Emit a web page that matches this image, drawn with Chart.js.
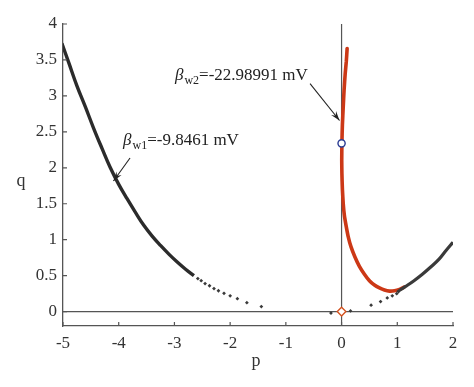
<!DOCTYPE html>
<html>
<head>
<meta charset="utf-8">
<script src="https://cdn.jsdelivr.net/npm/chart.js@4.4.0/dist/chart.umd.min.js"></script>
<style>
  html, body { margin: 0; padding: 0; background: #fff; }
  #wrap { width: 474px; height: 387px; }
</style>
</head>
<body>
<div id="wrap"><canvas id="myChart" width="474" height="387"></canvas></div>
<script>
// left branch, dense part (reads as a solid curve)
const leftP = [-5.02, -4.9, -4.75, -4.6, -4.45, -4.3, -4.15, -4.0, -3.85, -3.7, -3.55, -3.4, -3.25, -3.1, -2.95, -2.8, -2.65]
const leftQ = [3.73, 3.47, 3.14, 2.85, 2.55, 2.27, 2.0, 1.77, 1.57, 1.38, 1.2, 1.05, 0.92, 0.8, 0.69, 0.59, 0.5]

// left branch, sparse markers
const leftDotP = [-2.58, -2.52, -2.45, -2.37, -2.29, -2.21, -2.11, -2.0, -1.87, -1.7, -1.44]
const leftDotQ = [0.46, 0.43, 0.39, 0.36, 0.32, 0.29, 0.255, 0.22, 0.18, 0.125, 0.07]

// right branch, sparse markers
const rightDotP = [-0.19, 0.16, 0.53, 0.7, 0.82, 0.91, 0.99]
const rightDotQ = [-0.02, 0.01, 0.09, 0.14, 0.19, 0.22, 0.25]

// right branch, dense part
const rightP = [1.0, 1.05, 1.15, 1.3, 1.45, 1.6, 1.75, 1.875, 2.0]
const rightQ = [0.27, 0.3, 0.35, 0.43, 0.52, 0.62, 0.73, 0.85, 0.965]

// red curve
const redP = [0.1, 0.085, 0.065, 0.045, 0.03, 0.015, 0.006, 0.003, 0.006, 0.015, 0.03, 0.05, 0.08, 0.12, 0.17, 0.24, 0.32, 0.41, 0.5, 0.59, 0.68, 0.77, 0.86, 0.95, 1.04, 1.12]
const redQ = [3.66, 3.48, 3.31, 3.08, 2.85, 2.6, 2.34, 2.1, 1.92, 1.7, 1.5, 1.34, 1.2, 1.04, 0.9, 0.76, 0.63, 0.52, 0.43, 0.37, 0.33, 0.3, 0.285, 0.29, 0.31, 0.34]

// special points
const diamondPt = [0, 0]
const circlePt = [0, 2.34]

const xTicks = [-5, -4, -3, -2, -1, 0, 1, 2]
const yTicks = [0, 0.5, 1, 1.5, 2, 2.5, 3, 3.5, 4]

const serif = '"Liberation Serif", "DejaVu Serif", serif'

function pts(ps, qs) {
    return ps.map((p, i) => ({ x: p, y: qs[i] }))
}

// annotations given in data units (text start/baseline, arrow tail, arrow tip)
const notes = [
    { sub: 'w2', rest: '=-22.98991 mV', tx: -2.99, ty: 3.228, ax: -0.566, ay: 3.17, bx: -0.037, by: 2.658 },
    { sub: 'w1', rest: '=-9.8461 mV', tx: -3.923, ty: 2.317, ax: -3.797, ay: 2.136, bx: -4.094, by: 1.817 }
]

const extras = {
    id: 'extras',
    afterDatasetsDraw(chart) {
        const ctx = chart.ctx
        const xs = chart.scales.x, ys = chart.scales.y
        const area = chart.chartArea
        ctx.save()
        // inward tick marks
        ctx.strokeStyle = '#555'
        ctx.lineWidth = 1.2
        ctx.beginPath()
        xTicks.forEach(v => {
            const px = xs.getPixelForValue(v)
            ctx.moveTo(px, area.bottom)
            ctx.lineTo(px, area.bottom - 4)
        })
        yTicks.forEach(v => {
            const py = ys.getPixelForValue(v)
            ctx.moveTo(area.left, py)
            ctx.lineTo(area.left + 4, py)
        })
        ctx.stroke()

        // axis names
        ctx.fillStyle = '#333'
        ctx.font = '18px ' + serif
        ctx.textAlign = 'center'
        ctx.textBaseline = 'alphabetic'
        ctx.fillText('q', 21, 186)
        ctx.fillText('p', (area.left + area.right) / 2 - 2, 366)

        // annotations
        notes.forEach(n => {
            let x = xs.getPixelForValue(n.tx)
            const y = ys.getPixelForValue(n.ty)
            ctx.textAlign = 'left'
            ctx.fillStyle = '#222'
            ctx.font = 'italic 17px ' + serif
            ctx.fillText('β', x, y)
            x += ctx.measureText('β').width + 1
            ctx.font = '12px ' + serif
            ctx.fillText(n.sub, x, y + 4)
            x += ctx.measureText(n.sub).width
            ctx.font = '17px ' + serif
            ctx.fillText(n.rest, x, y)

            const x1 = xs.getPixelForValue(n.ax), y1 = ys.getPixelForValue(n.ay)
            const x2 = xs.getPixelForValue(n.bx), y2 = ys.getPixelForValue(n.by)
            const ang = Math.atan2(y2 - y1, x2 - x1)
            ctx.strokeStyle = '#222'
            ctx.lineWidth = 1.1
            ctx.beginPath()
            ctx.moveTo(x1, y1)
            ctx.lineTo(x2, y2)
            ctx.stroke()
            ctx.beginPath()
            ctx.moveTo(x2, y2)
            ctx.lineTo(x2 - 10 * Math.cos(ang - 0.32), y2 - 10 * Math.sin(ang - 0.32))
            ctx.lineTo(x2 - 6 * Math.cos(ang), y2 - 6 * Math.sin(ang))
            ctx.lineTo(x2 - 10 * Math.cos(ang + 0.32), y2 - 10 * Math.sin(ang + 0.32))
            ctx.closePath()
            ctx.fillStyle = '#222'
            ctx.fill()
        })
        ctx.restore()
    }
}

const data = {
    datasets: [
        {
            data: [{ x: diamondPt[0], y: diamondPt[1] }],
            pointStyle: 'rectRot', pointRadius: 4.3,
            pointBorderColor: '#d4521f', pointBackgroundColor: '#fff', pointBorderWidth: 1.4,
            showLine: false
        },
        {
            data: [{ x: circlePt[0], y: circlePt[1] }],
            pointStyle: 'circle', pointRadius: 3.6,
            pointBorderColor: '#2a3b93', pointBackgroundColor: '#fff', pointBorderWidth: 1.4,
            showLine: false
        },
        {
            data: pts(leftDotP, leftDotQ),
            pointStyle: 'rectRot', pointRadius: 1.9,
            pointBackgroundColor: '#3a3a3a', pointBorderWidth: 0,
            showLine: false
        },
        {
            data: pts(rightDotP, rightDotQ),
            pointStyle: 'rectRot', pointRadius: 1.9,
            pointBackgroundColor: '#3a3a3a', pointBorderWidth: 0,
            showLine: false
        },
        {
            data: pts(leftP, leftQ),
            showLine: true, borderColor: '#2b2b2b', borderWidth: 3.4,
            pointRadius: 0, tension: 0.4
        },
        {
            data: pts(rightP, rightQ),
            showLine: true, borderColor: '#3a3a3a', borderWidth: 3.2,
            pointRadius: 0, tension: 0.4
        },
        {
            data: pts(redP, redQ),
            showLine: true, borderColor: '#cc3816', borderWidth: 3.6,
            pointRadius: 0, tension: 0.15, borderCapStyle: 'round'
        },
        {
            data: [{ x: -5, y: 0 }, { x: 2, y: 0 }],
            showLine: true, borderColor: '#555', borderWidth: 1.2, pointRadius: 0
        },
        {
            data: [{ x: 0, y: -0.2 }, { x: 0, y: 4 }],
            showLine: true, borderColor: '#555', borderWidth: 1.2, pointRadius: 0
        }
    ]
}

const config = {
    type: 'scatter',
    data: data,
    options: {
        responsive: false,
        animation: false,
        layout: { padding: { left: 0, top: 24, right: 21, bottom: 0 } },
        plugins: { legend: { display: false }, tooltip: { enabled: false } },
        scales: {
            x: {
                type: 'linear', min: -5, max: 2,
                afterBuildTicks: s => { s.ticks = xTicks.map(v => ({ value: v })) },
                afterFit: s => { s.height = 61 },
                grid: { display: false, drawTicks: false },
                border: { display: true, color: '#555', width: 1.3 },
                ticks: { color: '#333', padding: 7, font: { family: serif, size: 17 }, maxRotation: 0,
                    callback: v => String(v) }
            },
            y: {
                type: 'linear', min: -0.2, max: 4,
                afterBuildTicks: s => { s.ticks = yTicks.map(v => ({ value: v })) },
                afterFit: s => { s.width = 63 },
                grid: { display: false, drawTicks: false },
                border: { display: true, color: '#555', width: 1.3 },
                ticks: { color: '#333', padding: 6, font: { family: serif, size: 17 },
                    callback: v => String(v) }
            }
        }
    },
    plugins: [extras]
}

new Chart(document.getElementById('myChart'), config)
</script>
</body>
</html>
